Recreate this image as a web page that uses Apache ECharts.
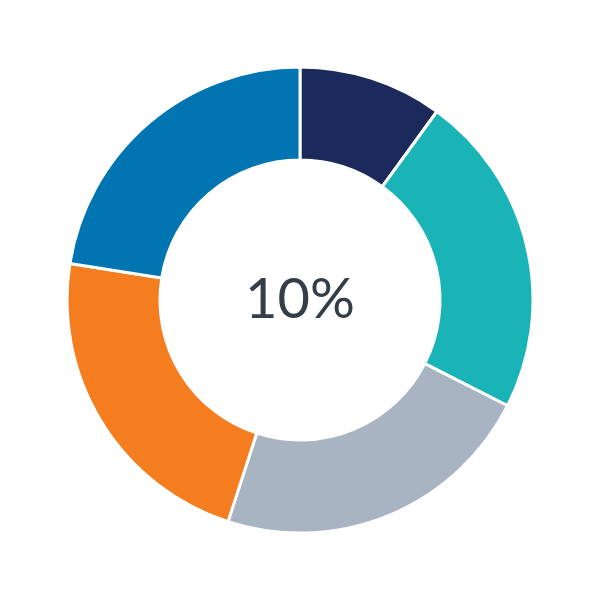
<!DOCTYPE html>
<html>
<head>
<meta charset="utf-8">
<script src="https://cdn.jsdelivr.net/npm/echarts@6/dist/echarts.min.js"></script>
<style>
  html, body { margin: 0; padding: 0; background: #fff; }
  #chart { width: 600px; height: 600px; }
</style>
</head>
<body>
<div id="chart"></div>
<script>
// slices, clockwise from 12 o'clock
var names = ['A', 'B', 'C', 'D', 'E'];
var values = [10, 22.5, 22.5, 22.5, 22.5];
var colors = ['#1b2a5a', '#1ab3b6', '#a9b4c2', '#f47d20', '#0075b2'];
var centerLabel = '10%';

var data = [];
for (var i = 0; i < names.length; i++) {
    data.push({ name: names[i], value: values[i], itemStyle: { color: colors[i] } });
}

var myChart = echarts.init(document.getElementById('chart'));
myChart.setOption({
    animation: false,
    title: {
        text: centerLabel,
        left: 'center',
        top: 'middle',
        textStyle: { fontFamily: 'Lato', fontWeight: 'normal', fontSize: 56, color: '#343e49' }
    },
    series: [{
        type: 'pie',
        center: ['50%', '50%'],
        radius: [140, 233],
        startAngle: 90,
        clockwise: true,
        label: { show: false },
        labelLine: { show: false },
        itemStyle: { borderColor: '#fff', borderWidth: 3 },
        emphasis: { disabled: true },
        data: data
    }]
});
</script>
</body>
</html>
